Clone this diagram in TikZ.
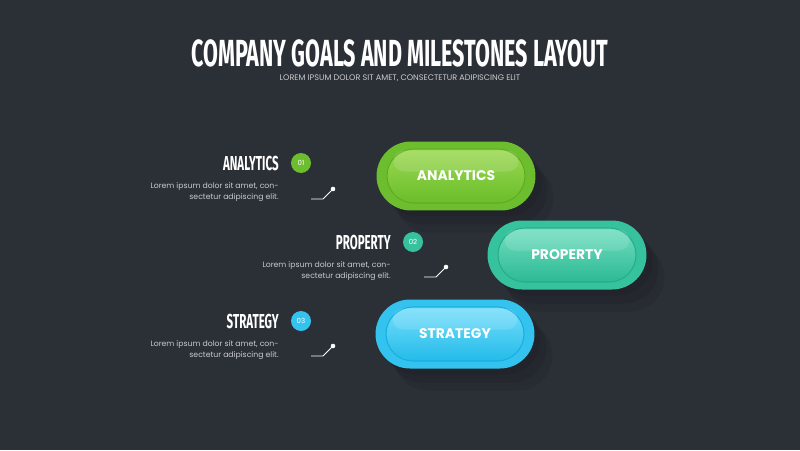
\documentclass[tikz,border=0pt]{standalone}
\usepackage{fontspec}
\setmainfont{Poppins}
\newfontfamily\headfont[FakeStretch=0.57]{Fira Sans}
\usepackage{tikz}
\usetikzlibrary{shapes.misc}

\definecolor{bgDark}{HTML}{2B2F36}
\definecolor{greyText}{HTML}{C9CBCE}
\definecolor{greenRim}{HTML}{6CBE2E}
\definecolor{greenTop}{HTML}{9CD952}
\definecolor{greenBot}{HTML}{6ABD2B}
\definecolor{greenLine}{HTML}{5FAE22}
\definecolor{tealRim}{HTML}{35C29D}
\definecolor{tealTop}{HTML}{72DEC1}
\definecolor{tealBot}{HTML}{2DBA94}
\definecolor{tealLine}{HTML}{27AD88}
\definecolor{cyanRim}{HTML}{34C3EE}
\definecolor{cyanTop}{HTML}{78DEFB}
\definecolor{cyanBot}{HTML}{23BBEA}
\definecolor{cyanLine}{HTML}{1AAEDD}

\begin{document}
\begin{tikzpicture}[%
		x=0.02cm, y=-0.02cm,
		pill/.style={rounded rectangle, minimum width=3.18cm, minimum height=1.38cm, inner sep=0pt},
		pillbody/.style={rounded rectangle, minimum width=2.76cm, minimum height=1.08cm, inner sep=0pt, line width=0.6pt,
			text=white, font=\bfseries\fontsize{7.9}{8}\selectfont},
		gloss/.style={rounded rectangle, minimum width=2.5cm, minimum height=0.42cm, inner sep=0pt, fill=white, opacity=0.13},
		pillshadow/.style={pill, fill=black, opacity=0.07},
		headlabel/.style={anchor=east, inner sep=0pt, text=white, font=\headfont\bfseries\fontsize{11.5}{12}\selectfont},
		numdot/.style={circle, minimum size=0.4cm, inner sep=0pt, text=white, font=\fontsize{4}{4}\selectfont},
		desc/.style={anchor=north east, inner sep=0pt, align=right, text=greyText, font=\fontsize{4.4}{6.2}\selectfont},
		icon/.style={draw=white, line width=0.5pt},
		icondot/.style={circle, fill=white, inner sep=0pt, minimum size=2.6pt}
		]

		%% Hintergrund
		\fill[bgDark] (0,0) rectangle (800,450);
		\useasboundingbox (0,0) rectangle (800,450);

		%% Titel
		\node[text=white, font=\headfont\bfseries\fontsize{21.5}{22}\selectfont] (title) at (400,53) {COMPANY GOALS AND MILESTONES LAYOUT};
		\node[text=greyText, font=\fontsize{4.6}{5}\selectfont] (subtitle) at (400,78) {LOREM IPSUM DOLOR SIT AMET, CONSECTETUR ADIPISCING ELIT};

		%% Schatten (weich, mehrere Lagen)
		\node[pillshadow] (analyticsShadowA) at (462,182) {};
		\node[pillshadow] (analyticsShadowB) at (468,190) {};
		\node[pillshadow] (analyticsShadowC) at (474,198) {};
		\node[pillshadow] (propertyShadowA) at (573,261) {};
		\node[pillshadow] (propertyShadowB) at (579,269) {};
		\node[pillshadow] (propertyShadowC) at (585,277) {};
		\node[pillshadow] (strategyShadowA) at (461,340) {};
		\node[pillshadow] (strategyShadowB) at (467,348) {};
		\node[pillshadow] (strategyShadowC) at (473,356) {};

		%% Pille 1
		\node[pill, fill=greenRim] (analyticsPill) at (456,176) {};
		\node[pillbody, draw=greenLine, top color=greenTop, bottom color=greenBot] (analyticsBody) at (456,176) {ANALYTICS};
		\node[gloss] (analyticsGloss) at (456,161) {};

		%% Pille 2
		\node[pill, fill=tealRim] (propertyPill) at (567,255) {};
		\node[pillbody, draw=tealLine, top color=tealTop, bottom color=tealBot] (propertyBody) at (567,255) {PROPERTY};
		\node[gloss] (propertyGloss) at (567,240) {};

		%% Pille 3
		\node[pill, fill=cyanRim] (strategyPill) at (455,334) {};
		\node[pillbody, draw=cyanLine, top color=cyanTop, bottom color=cyanBot] (strategyBody) at (455,334) {STRATEGY};
		\node[gloss] (strategyGloss) at (455,319) {};

		%% Beschriftung 01
		\node[headlabel] (analyticsTitle) at (279,163) {ANALYTICS};
		\node[numdot, fill=greenRim] (analyticsNum) at (301,163) {01};
		\node[desc] (analyticsText) at (279,182) {Lorem ipsum dolor sit amet, con-\\sectetur adipiscing elit.};
		\coordinate (analyticsIcon) at (311,199);
		\draw[icon] (analyticsIcon) -- ++(12,0) -- ++(10,-10) node[icondot] (analyticsIconDot) {};

		%% Beschriftung 02
		\node[headlabel] (propertyTitle) at (391,242) {PROPERTY};
		\node[numdot, fill=tealRim] (propertyNum) at (413,242) {02};
		\node[desc] (propertyText) at (391,261) {Lorem ipsum dolor sit amet, con-\\sectetur adipiscing elit.};
		\coordinate (propertyIcon) at (424,277);
		\draw[icon] (propertyIcon) -- ++(12,0) -- ++(10,-10) node[icondot] (propertyIconDot) {};

		%% Beschriftung 03
		\node[headlabel] (strategyTitle) at (279,321) {STRATEGY};
		\node[numdot, fill=cyanRim] (strategyNum) at (301,321) {03};
		\node[desc] (strategyText) at (279,340) {Lorem ipsum dolor sit amet, con-\\sectetur adipiscing elit.};
		\coordinate (strategyIcon) at (311,356);
		\draw[icon] (strategyIcon) -- ++(12,0) -- ++(10,-10) node[icondot] (strategyIconDot) {};
	\end{tikzpicture}
\end{document}
